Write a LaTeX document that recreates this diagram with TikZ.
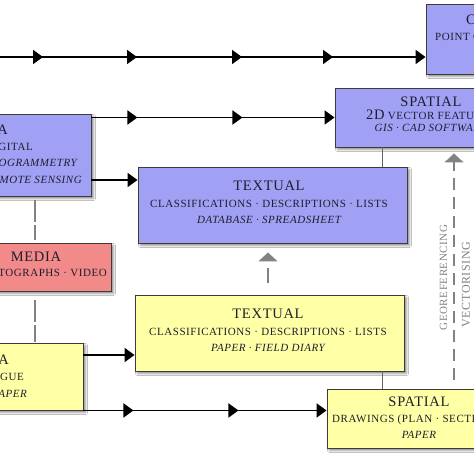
\documentclass[tikz,border=0pt]{standalone}
\usepackage{fontspec}
\setmainfont{Liberation Serif}[LetterSpace=5]
\usetikzlibrary{arrows.meta,decorations.markings,shadows.blur,fit}
\definecolor{boxblue}{RGB}{160,160,245}
\definecolor{boxyellow}{RGB}{255,255,165}
\definecolor{boxred}{RGB}{242,138,138}
\definecolor{boxline}{RGB}{60,60,55}
\definecolor{txtcol}{RGB}{30,30,45}
\definecolor{guide}{RGB}{130,130,130}
\tikzset{
  box/.style={draw=boxline, line width=0.9pt, inner sep=0pt,
    blur shadow={shadow xshift=2.5pt, shadow yshift=-2.5pt, shadow blur radius=2pt, shadow opacity=45}},
  bluebox/.style={box, fill=boxblue},
  yellowbox/.style={box, fill=boxyellow},
  redbox/.style={box, fill=boxred},
  ttl/.style={inner sep=0pt, text=txtcol, font=\fontsize{14.5}{16}\selectfont},
  sub/.style={inner sep=0pt, text=txtcol, font=\fontsize{11}{12}\selectfont},
  subit/.style={inner sep=0pt, text=txtcol, font=\fontsize{11}{12}\selectfont\itshape},
  vlabel/.style={inner sep=0pt, text=guide, rotate=90},
  flow/.style={line width=1.8pt, black, >={Triangle[length=10pt,width=14pt]}},
  link/.style={line width=0.9pt, boxline!80},
  guidearrow/.style={line width=1.2pt, guide, -{Triangle[length=9pt,width=19pt]}},
  guideline/.style={line width=1.2pt, guide, dash pattern=on 22pt off 3pt},
}
\begin{document}
\begin{tikzpicture}[x=1pt,y=-1pt]
\useasboundingbox (0,0) rectangle (474,474);
\fill[white] (0,0) rectangle (474,474);
\clip (0,0) rectangle (474,474);

% boxes
\node[bluebox, fit={(426,4) (540,74)}] (tr) {};
\node[bluebox, fit={(335,88) (527,147)}] (sb) {};
\node[bluebox, fit={(-60,114) (91,196)}] (lb) {};
\node[bluebox, fit={(138,167) (407,243)}] (bt) {};
\node[redbox, fit={(-39,243) (111,291)}] (md) {};
\node[yellowbox, fit={(-60,343) (83,410)}] (ly) {};
\node[yellowbox, fit={(135,295) (404,371)}] (yt) {};
\node[yellowbox, fit={(327,389) (511,448)}] (ys) {};

% texts
\node[ttl, anchor=west] (trT) at (466,20) {CLOUD};
\node[sub, anchor=west] (trS) at (435,37) {POINT CLOUD};

\node[ttl] (sbT) at (431,102) {SPATIAL};
\node[sub] (sbS) at (431,115) {{\fontsize{14.5}{16}\selectfont 2D} VECTOR FEATURES};
\node[subit] (sbI) at (431,128) {GIS · CAD SOFTWARE};

\node[ttl, anchor=east] (lbT) at (8,130) {DATA};
\node[sub, anchor=east] (lbS) at (33,147) {DIGITAL};
\node[subit, anchor=east] (lbI1) at (77,163) {PHOTOGRAMMETRY};
\node[subit, anchor=east] (lbI2) at (82,180) {REMOTE SENSING};

\node[ttl] (btT) at (269,186) {TEXTUAL};
\node[sub] (btS) at (269,204) {CLASSIFICATIONS · DESCRIPTIONS · LISTS};
\node[subit] (btI) at (269,220) {DATABASE · SPREADSHEET};

\node[ttl] (mdT) at (36,257) {MEDIA};
\node[sub, anchor=east] (mdS) at (107,273) {PHOTOGRAPHS · VIDEO};

\node[ttl, anchor=east] (lyT) at (9,360) {DATA};
\node[sub, anchor=east] (lyS) at (24,377) {ANALOGUE};
\node[subit, anchor=east] (lyI) at (27,394) {PAPER};

\node[ttl] (ytT) at (268,314) {TEXTUAL};
\node[sub] (ytS) at (268,332) {CLASSIFICATIONS · DESCRIPTIONS · LISTS};
\node[subit] (ytI) at (268,348) {PAPER · FIELD DIARY};

\node[ttl] (ysT) at (419,402) {SPATIAL};
\node[sub, anchor=west] (ysS) at (332,420) {DRAWINGS (PLAN · SECTION)};
\node[subit] (ysI) at (419,435) {PAPER};

\node[vlabel, font=\fontsize{11}{13}\selectfont] (geo) at (443.5,277.5) {GEOREFERENCING};
\node[vlabel, font=\fontsize{12}{14}\selectfont] (vec) at (466,284.5) {VECTORISING};

% flows
\coordinate (tl0) at (-5,57);
\draw[flow, ->, decoration={markings,
    mark=at position 48pt with {\arrow{>}},
    mark=at position 142pt with {\arrow{>}},
    mark=at position 247pt with {\arrow{>}},
    mark=at position 338pt with {\arrow{>}}}, postaction={decorate}]
  (tl0) -- (tl0 -| tr.west);
\draw[flow, ->, decoration={markings,
    mark=at position 46pt with {\arrow{>}},
    mark=at position 151pt with {\arrow{>}}}, postaction={decorate}]
  (sb.west -| lb.east) -- (sb.west);
\draw[flow, ->] ([yshift=-25pt]lb.east) -- ([yshift=-25pt]lb.east -| bt.west);
\draw[flow, ->] ([yshift=21.5pt]ly.east) -- ([yshift=21.5pt]ly.east -| yt.west);
\draw[flow, ->, decoration={markings,
    mark=at position 50pt with {\arrow{>}},
    mark=at position 155pt with {\arrow{>}}}, postaction={decorate}]
  (ly.south east) -- (ly.south east -| ys.west);

% links
\draw[link] ([xshift=-49pt]sb.south) -- ([xshift=-49pt]sb.south |- bt.north);
\draw[link] ([xshift=112.5pt]yt.south) -- ([xshift=112.5pt]yt.south |- ys.north);

% guides
\draw[guidearrow, dash pattern=on 12pt off 7pt, shorten <=9pt, shorten >=6pt]
  ([xshift=35pt]ys.north) -- ([xshift=35pt]ys.north |- sb.south);
\draw[guidearrow, dash pattern=on 15pt off 20pt, shorten <=12pt, shorten >=9pt]
  ([xshift=-1.5pt]yt.north) -- ([xshift=-1.5pt]yt.north |- bt.south);
\draw[guideline, shorten <=4pt, shorten >=3pt] ([xshift=-1pt]lb.south -| md.north) -- ([xshift=-1pt]md.north);
\draw[guideline, shorten <=9pt, shorten >=1pt] ([xshift=-1pt]md.south) -- ([xshift=-1pt]md.south |- ly.north);
\end{tikzpicture}
\end{document}
